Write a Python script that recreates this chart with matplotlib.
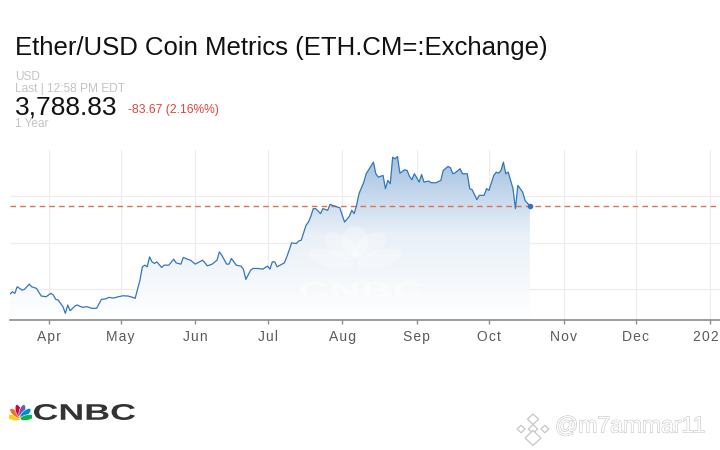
import matplotlib
matplotlib.use('Agg')
import matplotlib.pyplot as plt
import matplotlib.dates as mdates
import matplotlib.patheffects as pe
import numpy as np
import pandas as pd
from matplotlib.patches import Polygon, Ellipse, PathPatch
from matplotlib.textpath import TextPath
from matplotlib.font_manager import FontProperties
from matplotlib.colors import LinearSegmentedColormap

plt.rcParams['font.family'] = ['Liberation Sans', 'DejaVu Sans']

# price series (USD)
dates = ['2021-03-16', '2021-03-17', '2021-03-18', '2021-03-19', '2021-03-21', '2021-03-22',
         '2021-03-24', '2021-03-25', '2021-03-27', '2021-03-29', '2021-03-31', '2021-04-02',
         '2021-04-03', '2021-04-04', '2021-04-05', '2021-04-07', '2021-04-08', '2021-04-09',
         '2021-04-10', '2021-04-12', '2021-04-13', '2021-04-15', '2021-04-17', '2021-04-19',
         '2021-04-21', '2021-04-23', '2021-04-25', '2021-04-26', '2021-04-28', '2021-04-30',
         '2021-05-02', '2021-05-04', '2021-05-06', '2021-05-07', '2021-05-09', '2021-05-10',
         '2021-05-11', '2021-05-12', '2021-05-13', '2021-05-14', '2021-05-15', '2021-05-16',
         '2021-05-18', '2021-05-19', '2021-05-21', '2021-05-23', '2021-05-24', '2021-05-26',
         '2021-05-27', '2021-05-29', '2021-05-30', '2021-06-01', '2021-06-04', '2021-06-05',
         '2021-06-06', '2021-06-08', '2021-06-10', '2021-06-11', '2021-06-12', '2021-06-14',
         '2021-06-15', '2021-06-16', '2021-06-18', '2021-06-20', '2021-06-21', '2021-06-22',
         '2021-06-24', '2021-06-25', '2021-06-27', '2021-06-29', '2021-07-01', '2021-07-02',
         '2021-07-03', '2021-07-04', '2021-07-05', '2021-07-07', '2021-07-08', '2021-07-09',
         '2021-07-10', '2021-07-11', '2021-07-13', '2021-07-14', '2021-07-15', '2021-07-17',
         '2021-07-18', '2021-07-19', '2021-07-20', '2021-07-21', '2021-07-22', '2021-07-23',
         '2021-07-24', '2021-07-26', '2021-07-27', '2021-07-28', '2021-07-30', '2021-07-31',
         '2021-08-02', '2021-08-04', '2021-08-05', '2021-08-06', '2021-08-07', '2021-08-08',
         '2021-08-10', '2021-08-11', '2021-08-14', '2021-08-15', '2021-08-16', '2021-08-18',
         '2021-08-19', '2021-08-20', '2021-08-21', '2021-08-22', '2021-08-23', '2021-08-24',
         '2021-08-25', '2021-08-27', '2021-08-28', '2021-08-29', '2021-08-30', '2021-08-31',
         '2021-09-01', '2021-09-02', '2021-09-03', '2021-09-04', '2021-09-06', '2021-09-07',
         '2021-09-09', '2021-09-11', '2021-09-12', '2021-09-14', '2021-09-15', '2021-09-16',
         '2021-09-17', '2021-09-19', '2021-09-20', '2021-09-22', '2021-09-23', '2021-09-24',
         '2021-09-26', '2021-09-27', '2021-09-29', '2021-09-30', '2021-10-01', '2021-10-03',
         '2021-10-04', '2021-10-05', '2021-10-06', '2021-10-07', '2021-10-08', '2021-10-09',
         '2021-10-11', '2021-10-12', '2021-10-13', '2021-10-15', '2021-10-16', '2021-10-18']
prices = [1893, 1942, 1908, 2050, 1979, 1993,
          2108, 2050, 2015, 1850, 1835, 1908,
          1871, 1778, 1764, 1620, 1477, 1656,
          1533, 1635, 1656, 1607, 1620, 1585,
          1585, 1778, 1792, 1821, 1807, 1835,
          1856, 1850, 1821, 1800, 2194, 2480,
          2516, 2480, 2695, 2587, 2553, 2587,
          2467, 2516, 2516, 2645, 2566, 2538,
          2682, 2639, 2624, 2538, 2624, 2566,
          2501, 2538, 2624, 2802, 2731, 2538,
          2538, 2660, 2516, 2495, 2424, 2209,
          2409, 2445, 2445, 2430, 2495, 2430,
          2587, 2587, 2480, 2538, 2566, 2695,
          2839, 2996, 2983, 3039, 3054, 3376,
          3447, 3570, 3735, 3735, 3684, 3628,
          3735, 3699, 3828, 3806, 3770, 3757,
          3447, 3570, 3699, 3628, 3806, 4058,
          4308, 4488, 4738, 4488, 4415, 4452,
          4166, 4344, 4273, 4845, 4811, 4860,
          4501, 4574, 4559, 4430, 4359, 4488,
          4402, 4308, 4473, 4308, 4330, 4294,
          4294, 4344, 4559, 4645, 4617, 4488,
          4510, 4596, 4488, 4488, 4166, 4144,
          3929, 4022, 4022, 4166, 4129, 4452,
          4523, 4501, 4559, 4738, 4488, 4523,
          4166, 3735, 4237, 4093, 3914, 3788.83]

last_price = 3788.83
change = -83.67
change_pct = 2.16
tick_dates = ['2021-04-01', '2021-05-01', '2021-06-01', '2021-07-01', '2021-08-01',
              '2021-09-01', '2021-10-01', '2021-11-01', '2021-12-01', '2022-01-01']
tick_labels = ['Apr', 'May', 'Jun', 'Jul', 'Aug', 'Sep', 'Oct', 'Nov', 'Dec', '2022']
grid_levels = [2000, 3000, 4000]


def stretched_text(fig, rect, text, color, alpha=1.0, weight='bold', zorder=5):
    # text squeezed into a fixed box (logo-like lettering)
    a = fig.add_axes(rect, zorder=zorder)
    a.set_axis_off()
    a.patch.set_alpha(0)
    tp = TextPath((0, 0), text, size=1, prop=FontProperties(family='Liberation Sans', weight=weight))
    a.add_patch(PathPatch(tp, facecolor=color, edgecolor='none', alpha=alpha))
    ext = tp.get_extents()
    a.set_xlim(ext.x0, ext.x1)
    a.set_ylim(ext.y0, ext.y1)
    return a


W, H = 720, 450
fig = plt.figure(figsize=(7.2, 4.5), dpi=100)
fig.patch.set_facecolor('white')

# header texts
fig.text(15 / W, 1 - 55 / H, 'Ether/USD Coin Metrics (ETH.CM=:Exchange)',
         fontsize=18.5, color='#111111', va='baseline')
fig.text(15 / W, 1 - 80.5 / H, 'USD', fontsize=8.6, color='#c4c4c4', va='baseline')
fig.text(15 / W, 1 - 92.5 / H, 'Last | 12:58 PM EDT', fontsize=8.6, color='#c4c4c4', va='baseline')
fig.text(15 / W, 1 - 114 / H, f'{last_price:,.2f}', fontsize=19, color='#111111', va='baseline')
fig.text(128 / W, 1 - 113.5 / H, f'{change:.2f} ({change_pct:.2f}%%)', fontsize=8.7,
         color='#e2453c', va='baseline')
fig.text(15 / W, 1 - 127 / H, '1 Year', fontsize=8.6, color='#c4c4c4', va='baseline')

# main chart
ax = fig.add_axes([10 / W, 1 - 320 / H, 710 / W, 170 / H])
x = mdates.date2num(pd.to_datetime(dates))
y_lo, y_hi = 1333, 5000
x_lo = mdates.date2num(pd.Timestamp('2021-03-16'))
x_hi = mdates.date2num(pd.Timestamp('2022-01-05'))

for lv in grid_levels:
    ax.axhline(lv, color='#ececec', lw=0.8, zorder=0)
for t in tick_dates:
    ax.axvline(mdates.date2num(pd.Timestamp(t)), color='#ececec', lw=0.8, zorder=0)

# gradient area under the line
cmap = LinearSegmentedColormap.from_list('fade', ['#ffffff', '#e9f0f8', '#9dbddf'])
grad = np.linspace(0, 1, 256).reshape(-1, 1)
img = ax.imshow(grad, extent=[x_lo, x_hi, y_lo, y_hi], origin='lower', aspect='auto',
                cmap=cmap, zorder=1)
verts = np.vstack([[x[0], y_lo], np.column_stack([x, prices]), [x[-1], y_lo]])
clip = Polygon(verts, closed=True, facecolor='none', edgecolor='none', transform=ax.transData)
ax.add_patch(clip)
img.set_clip_path(clip)

ax.axhline(last_price, color='#e0704f', lw=1, ls=(0, (4, 3)), zorder=2)
ax.plot(x, prices, color='#3276bb', lw=0.9, zorder=3)
ax.plot(x[-1], prices[-1], 'o', color='#3276bb', ms=3, zorder=4)

ax.set_xlim(x_lo, x_hi)
ax.set_ylim(y_lo, y_hi)
ax.set_xticks([mdates.date2num(pd.Timestamp(t)) for t in tick_dates])
# the site spaces its axis letters out
ax.set_xticklabels(['\u200a'.join(lab) for lab in tick_labels])
ax.set_yticks([])
ax.tick_params(axis='x', length=3, width=1, color='#8c8c8c', labelcolor='#5a5a5a',
               labelsize=10, pad=4)
for s in ['top', 'right', 'left']:
    ax.spines[s].set_visible(False)
ax.spines['bottom'].set_color('#8c8c8c')
ax.spines['bottom'].set_linewidth(1.2)
ax.patch.set_alpha(0)

# faint CNBC watermark inside the chart
wm = fig.add_axes([305 / W, 1 - 282 / H, 100 / W, 62 / H], zorder=3)
wm.set_axis_off()
wm.patch.set_alpha(0)
for ang in [150, 120, 90, 60, 30]:
    r = np.deg2rad(ang)
    wm.add_patch(Ellipse((0.5 + 0.28 * np.cos(r), 0.1 + 0.55 * np.sin(r)), 0.26, 0.5,
                         angle=ang - 90, facecolor='white', alpha=0.3, edgecolor='none'))
wm.set_xlim(0, 1)
wm.set_ylim(0, 1)
stretched_text(fig, [300 / W, 1 - 298 / H, 122 / W, 16 / H], 'CNBC', 'white', alpha=0.5)

# CNBC logo bottom left
logo = fig.add_axes([9 / W, 1 - 422 / H, 23 / W, 21 / H])
logo.set_axis_off()
feathers = ['#fccc12', '#f37021', '#cc004c', '#6460aa', '#0089d0', '#0db14b']
for i, c in enumerate(feathers):
    ang = 168 - i * 31
    r = np.deg2rad(ang)
    logo.add_patch(Ellipse((0.5 + 0.3 * np.cos(r), 0.12 + 0.42 * np.sin(r)), 0.26, 0.62,
                           angle=ang - 90, facecolor=c, edgecolor='white', lw=0.4))
logo.set_xlim(0, 1)
logo.set_ylim(0, 1)
stretched_text(fig, [34 / W, 1 - 420 / H, 101 / W, 16 / H], 'CNBC', '#333333')

# watermark bottom right
bl = fig.add_axes([514 / W, 1 - 447 / H, 38 / W, 36 / H])
bl.set_axis_off()
bl.set_xlim(-1.2, 1.2)
bl.set_ylim(-1.2, 1.2)


def diamond(cx, cy, s):
    return Polygon([[cx, cy + s], [cx + s, cy], [cx, cy - s], [cx - s, cy]], closed=True,
                   facecolor='white', edgecolor='#c6c6c6', lw=0.9)


for cx, cy, s in [(0, 0, 0.3), (-0.75, 0, 0.25), (0.75, 0, 0.25), (0, 0.65, 0.35), (0, -0.6, 0.5)]:
    bl.add_patch(diamond(cx, cy, s))
fig.text(555 / W, 1 - 426 / H, '@m7ammar11', fontsize=16.5, color='white', va='center',
         path_effects=[pe.withStroke(linewidth=0.7, foreground='#bdbdbd')])

fig.savefig('out.png', dpi=100, facecolor='white')
